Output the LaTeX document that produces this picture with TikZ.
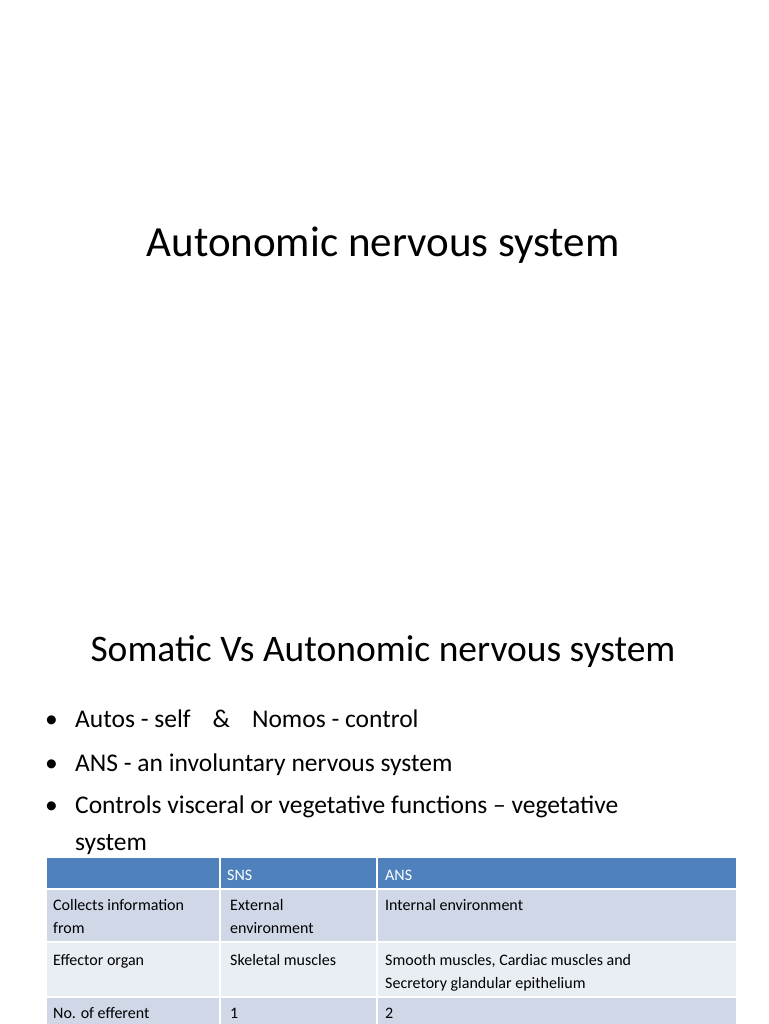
\documentclass[tikz,border=0pt]{standalone}
\usepackage{fontspec}
\setmainfont{Carlito}
\definecolor{hdr}{HTML}{4F81BD}
\definecolor{rowa}{HTML}{D0D8E8}
\definecolor{rowb}{HTML}{E9EDF4}
\begin{document}
\begin{tikzpicture}[x=1pt,y=-1pt,
  txt/.style={anchor=base west,inner sep=0pt,font=\fontsize{16}{19}\selectfont},
  bul/.style={anchor=base west,inner sep=0pt,font=\fontsize{25.5}{30}\selectfont},
  cell/.style={draw=white,line width=1pt}]
\useasboundingbox[fill=white] (0,0) rectangle (768,1024);
\node[anchor=base,inner sep=0pt,font=\fontsize{43}{50}\selectfont] (t1) at (383,256) {Autonomic nervous system};
\node[anchor=base,inner sep=0pt,font=\fontsize{37.5}{44}\selectfont] (t2) at (383,661) {Somatic Vs Autonomic nervous system};
\node[bul] (b0) at (45,727) {•};
\node[bul] (b1) at (75,727) {Autos - self\hspace{22pt}\&\hspace{22pt}Nomos - control};
\node[bul] (b2a) at (45,771) {•};
\node[bul] (b2) at (75,771) {ANS - an involuntary nervous system};
\node[bul] (b3a) at (45,813) {•};
\node[bul] (b3) at (75,813) {Controls visceral or vegetative functions – vegetative};
\node[bul] (b4) at (75,850) {system};
% table
\fill[hdr] (47,858) rectangle (736,889);
\fill[rowa] (47,889) rectangle (736,942);
\fill[rowb] (47,942) rectangle (736,997);
\fill[rowa] (47,997) rectangle (736,1030);
\foreach \y in {889,942,997} \draw[white,line width=1.2pt] (47,\y) -- (736,\y);
\foreach \x in {220,377} \draw[white,line width=1.2pt] (\x,858) -- (\x,1030);
\node[txt,text=white] (h1) at (227,880) {SNS};
\node[txt,text=white] (h2) at (385,880) {ANS};
\node[txt] (c11) at (53,910) {Collects information};
\node[txt] (c11b) at (53,933) {from};
\node[txt] (c12) at (230,910) {External};
\node[txt] (c12b) at (230,933) {environment};
\node[txt] (c13) at (385,910) {Internal environment};
\node[txt] (c21) at (53,965) {Effector organ};
\node[txt] (c22) at (230,965) {Skeletal muscles};
\node[txt] (c23) at (385,965) {Smooth muscles, Cardiac muscles and};
\node[txt] (c23b) at (385,988) {Secretory glandular epithelium};
\node[txt] (c31) at (53,1018) {No. of efferent};
\node[txt] (c32) at (230,1018) {1};
\node[txt] (c33) at (385,1018) {2};
\end{tikzpicture}
\end{document}
